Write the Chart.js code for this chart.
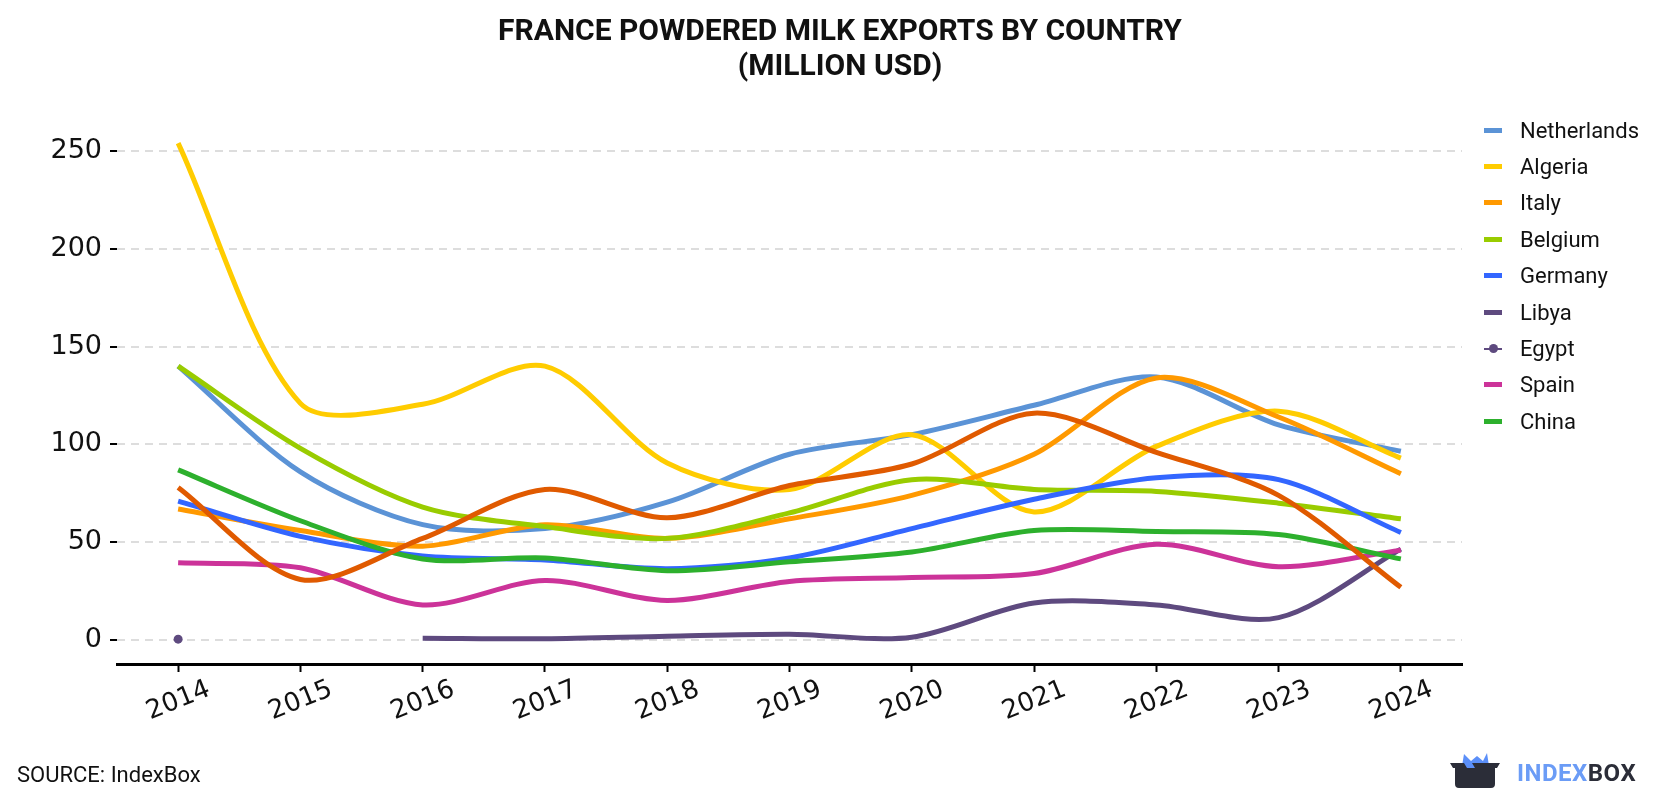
<!DOCTYPE html>
<html><head><meta charset="utf-8">
<script src="https://cdn.jsdelivr.net/npm/chart.js@4"></script>
<style>
html,body{margin:0;padding:0;background:#fff;}
#wrap{position:relative;width:1680px;height:800px;overflow:hidden;font-family:Roboto,sans-serif;color:#111;}
#c{position:absolute;left:0;top:0;}
#title{position:absolute;left:0;width:1680px;top:12px;text-align:center;font-weight:700;font-size:30px;line-height:35px;}
#legend{position:absolute;left:1484px;top:112px;}
.li{height:36.4px;display:flex;align-items:center;font-size:22px;white-space:nowrap;}
.mk{width:18px;height:5px;margin-right:18px;position:relative;}
.dot{position:absolute;left:5px;top:-2.5px;width:9px;height:9px;border-radius:50%;}
#source{position:absolute;left:17px;top:762px;font-size:22px;}
#logo{position:absolute;left:1450px;top:752px;}
#logotext{position:absolute;left:1517px;top:759px;font-size:24px;font-weight:700;letter-spacing:0.5px;}
</style></head>
<body>
<div id="wrap">
<canvas id="c" width="1680" height="800"></canvas>
<div id="title">FRANCE POWDERED MILK EXPORTS BY COUNTRY<br>(MILLION USD)</div>
<div id="legend"></div>
<div id="source">SOURCE: IndexBox</div>
<svg id="logo" width="52" height="38" viewBox="0 0 52 38">
  <path d="M12 14 L14 2 L21 9 L27 4 L33 9 L37 1 L39 14 Z" fill="#5b8ff9"/>
  <path d="M0 11 L50 11 L47 16 L45 16 L45 32 Q45 36 41 36 L9 36 Q5 36 5 32 L5 16 L3 16 Z" fill="#2b2d38"/>
  <path d="M14 11 L22 11 L25 16 L17 16 Z" fill="#5b8ff9"/>
</svg>
<div id="logotext"><span style="color:#6b9cf6">INDEX</span><span style="color:#2b2d38">BOX</span></div>
</div>
<script>
const years = ['2014','2015','2016','2017','2018','2019','2020','2021','2022','2023','2024'];
const netherlands = [140, 86, 59, 57, 70.5, 95, 105, 120, 134.5, 110, 96.5];
const algeria     = [254, 121, 120.5, 140, 90.5, 77, 105, 65.5, 99, 117, 93];
const italy       = [67, 56, 48, 59, 52, 62, 74, 95, 134, 114, 85];
const belgium     = [140, 98, 68, 58, 52, 65, 82, 77, 76, 70, 62];
const germany     = [71, 53, 43, 41, 36.5, 42, 57, 72, 83, 82, 55];
const libya       = [null, null, 1, 0.7, 2, 3, 1.5, 19, 18, 11.5, 46.5];
const egypt       = [0.5, null, null, null, null, null, null, null, null, null, null];
const spain       = [39.5, 37, 18, 30.5, 20.3, 30, 32, 34, 49, 37.5, 46];
const china       = [87, 61, 41.5, 42, 35.5, 40, 45, 56, 55.5, 54, 41.5];
const other       = [78, 31, 52, 77, 62.5, 79, 90, 116, 96, 74, 27];

const seriesNames  = ['Netherlands','Algeria','Italy','Belgium','Germany','Libya','Egypt','Spain','China','Other'];
const seriesData   = [netherlands, algeria, italy, belgium, germany, libya, egypt, spain, china, other];
const seriesColors = ['#5b93d6','#ffcc00','#ff9900','#99cc00','#3366ff','#5e4a7f','#5e4a7f','#cc3399','#2db02d','#e05a00'];
const inLegend     = [true,true,true,true,true,true,true,true,true,false];

const datasets = seriesNames.map((n,i)=>({
  label:n, data:seriesData[i], borderColor:seriesColors[i], backgroundColor:seriesColors[i],
  borderWidth:5, tension:0.3, fill:false, spanGaps:false,
  pointRadius: n==='Egypt'?4.5:0, pointHoverRadius:0, pointBorderWidth:0,
  order: seriesNames.length - i
}));

const lg = document.getElementById('legend');
seriesNames.forEach((n,i)=>{
  if(!inLegend[i]) return;
  const row=document.createElement('div'); row.className='li';
  const mk=document.createElement('span'); mk.className='mk';
  if(n==='Egypt'){ mk.style.height='2px'; mk.style.background=seriesColors[i];
    const d=document.createElement('span'); d.className='dot'; d.style.background=seriesColors[i]; d.style.top='-3.5px'; mk.appendChild(d);
  } else { mk.style.background=seriesColors[i]; }
  row.appendChild(mk);
  const t=document.createElement('span'); t.textContent=n; row.appendChild(t);
  lg.appendChild(row);
});

new Chart(document.getElementById('c'), {
  type:'line',
  data:{labels:years, datasets},
  options:{
    responsive:false, animation:false, devicePixelRatio:1,
    layout:{padding:{left:0,right:218,top:120,bottom:0}},
    plugins:{legend:{display:false}, tooltip:{enabled:false}, title:{display:false}},
    scales:{
      x:{type:'category', offset:true,
        grid:{display:true, drawOnChartArea:false, drawTicks:true, tickLength:8, tickColor:'#000', tickWidth:2},
        border:{display:true, color:'#000', width:3},
        ticks:{font:{family:'DejaVu Sans',size:26}, color:'#111', minRotation:22, maxRotation:22, padding:2, labelOffset:31, autoSkip:false},
        afterFit(s){ s.height = 136; }
      },
      y:{min:-12.2, max:265.8,
        grid:{color:'#dddddd', lineWidth:2, drawTicks:true, tickLength:7, tickColor:'#000', tickWidth:2, tickBorderDash:[]},
        border:{display:false, dash:[8,6]},
        ticks:{stepSize:50, includeBounds:false, font:{family:'DejaVu Sans',size:27}, color:'#111', padding:8},
        afterFit(s){ s.width = 117; }
      }
    }
  }
});
</script>
</body></html>
